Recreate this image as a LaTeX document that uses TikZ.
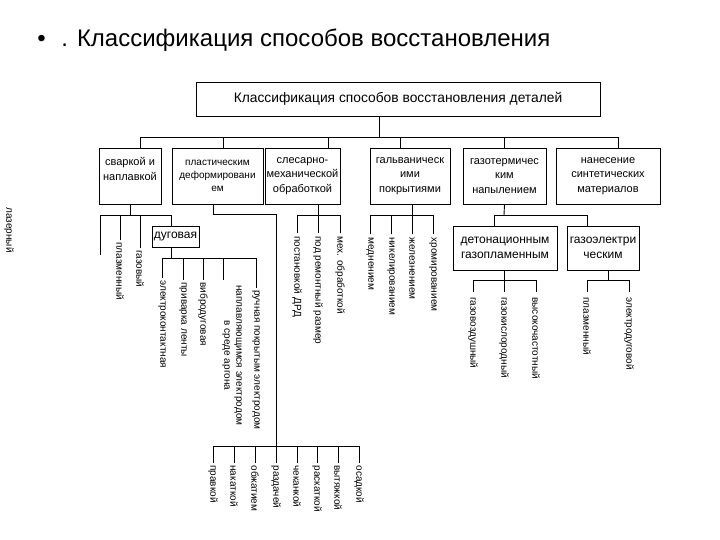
\documentclass[tikz,border=0pt]{standalone}
\usepackage{fontspec}
\setmainfont{Liberation Sans}
\usetikzlibrary{calc}

\begin{document}
\begin{tikzpicture}[x=1pt, y=-1pt, line width=0.9pt,
    box/.style={draw, align=center, inner sep=1pt, font=\fontsize{11}{14.5}\selectfont},
    smallbox/.style={box, font=\fontsize{10}{13}\selectfont},
    lbl/.style={rotate=-90, anchor=west, inner sep=0pt, align=center, font=\fontsize{10}{12}\selectfont}]
    \useasboundingbox (0,0) rectangle (720,540);
    % title
    \node[anchor=base west, inner sep=0pt, font=\fontsize{24}{28}\selectfont] (bullet) at (37,47) {•};
    \node[anchor=base west, inner sep=0pt, font=\fontsize{24}{28}\selectfont] (title) at (61,47) {. Классификация способов восстановления};
    % root
    \node[box, minimum width=404, minimum height=34, font=\fontsize{13.8}{15}\selectfont] (root) at (398,99) {Классификация способов восстановления деталей};
    \coordinate (rootJ) at (379,137);
    \path[draw] ($(root.south)+(-19,0)$) -- (rootJ);
    % first level
    \node[box, minimum width=62, minimum height=56] (svarka) at (130,176) {сваркой и\\наплавкой\\~};
    \node[smallbox, minimum width=91, minimum height=56] (plast) at (217.5,176) {пластическим\\деформировани\\ем};
    \node[box, minimum width=75, minimum height=56] (slesar) at (302.5,176) {слесарно-\\механической\\обработкой};
    \node[box, minimum width=80, minimum height=56] (galv) at (410,176) {гальваническ\\ими\\покрытиями};
    \node[box, minimum width=83, minimum height=56] (gazoterm) at (504.5,176) {газотермичес\\ким\\напылением};
    \node[box, minimum width=104, minimum height=56] (nanes) at (608,176) {нанесение\\синтетических\\материалов};
    \path[draw] ($(svarka.north)+(10,0)$) |- (rootJ);
    \path[draw] ($(plast.north)+(5.5,0)$) |- (rootJ);
    \path[draw] ($(slesar.north)+(25.5,0)$) |- (rootJ);
    \path[draw] ($(galv.north)+(-10,0)$) |- (rootJ);
    \path[draw] (gazoterm.north) |- (rootJ);
    \path[draw] ($(nanes.north)+(10,0)$) |- (rootJ);

    % welding and surfacing
    \node[lbl] (lazer) at (9,207) {лазерный};
    \node[lbl] (plazma) at (120,242) {плазменный};
    \node[lbl] (gaz) at (140,250) {газовый};
    \node[box, minimum width=47, minimum height=21, font=\fontsize{12}{14}\selectfont] (dug) at (175.5,236.5) {дуговая};
    \coordinate (svJ) at (130,215);
    \coordinate (svFree) at (100,255);
    \path[draw] (svarka.south) -- (svJ);
    \path[draw] (svFree) |- (svJ);
    \path[draw] ($(plazma.west)+(0,-2)$) |- (svJ);
    \path[draw] ($(gaz.west)+(0,-2)$) |- (svJ);
    \path[draw] ($(dug.north)+(-4.5,0)$) |- (svJ);
    % arc
    \node[lbl] (ekontakt) at (162,280) {электроконтактная};
    \node[lbl] (privarka) at (183,282) {приварка ленты};
    \node[lbl] (vibro) at (203,282) {вибродуговая};
    \node[lbl] (argon) at (232,285) {наплавляющимся электродом\\в среде аргона};
    \node[lbl] (ruchn) at (256,290) {ручная покрытым электродом};
    \coordinate (dugJ) at (171,258);
    \path[draw] ($(dug.south)+(-4.5,0)$) -- (dugJ);
    \path[draw] ($(ekontakt.west)+(0,-2)$) |- (dugJ);
    \path[draw] ($(privarka.west)+(0,-2)$) |- (dugJ);
    \path[draw] ($(vibro.west)+(0,-2)$) |- (dugJ);
    \path[draw] ($(argon.west)+(-9,-5)$) |- (dugJ);
    \path[draw] ($(ruchn.west)+(0,-2)$) |- (dugJ);

    % plastic deformation
    \node[lbl] (pravka) at (213,465) {правкой};
    \node[lbl] (nakatka) at (234,465) {накаткой};
    \node[lbl] (obzhatie) at (255,465) {обжатием};
    \node[lbl] (razdacha) at (276,465) {раздачей};
    \node[lbl] (chekanka) at (297,465) {чеканкой};
    \node[lbl] (raskatka) at (317,465) {раскаткой};
    \node[lbl] (vytyazhka) at (338,465) {вытяжкой};
    \node[lbl] (osadka) at (359,465) {осадкой};
    \coordinate (plJ) at (276,446);
    \path[draw] ($(plast.south)+(-4.5,0)$) -- ++(0,10) -| (plJ);
    \path[draw] ($(pravka.west)+(0,-2)$) |- (plJ);
    \path[draw] ($(nakatka.west)+(0,-2)$) |- (plJ);
    \path[draw] ($(obzhatie.west)+(0,-2)$) |- (plJ);
    \path[draw] ($(razdacha.west)+(0,-2)$) |- (plJ);
    \path[draw] ($(chekanka.west)+(0,-2)$) |- (plJ);
    \path[draw] ($(raskatka.west)+(0,-2)$) |- (plJ);
    \path[draw] ($(vytyazhka.west)+(0,-2)$) |- (plJ);
    \path[draw] ($(osadka.west)+(0,-2)$) |- (plJ);

    % machining
    \node[lbl] (postDRD) at (297,236) {постановкой ДРД};
    \node[lbl] (remraz) at (318,236) {под ремонтный размер};
    \node[lbl] (mehobr) at (340,236) {мех. обработкой};
    \coordinate (slJ) at (318,215);
    \path[draw] ($(slesar.south)+(15.5,0)$) -- (slJ);
    \path[draw] ($(postDRD.west)+(0,-3)$) |- (slJ);
    \path[draw] ($(remraz.west)+(0,-3)$) |- (slJ);
    \path[draw] ($(mehobr.west)+(0,-3)$) |- (slJ);

    % galvanic coatings
    \node[lbl] (medn) at (370,237) {меднением};
    \node[lbl] (nikel) at (391,237) {никелированием};
    \node[lbl] (zhelez) at (412,237) {железнением};
    \node[lbl] (hrom) at (433,237) {хромированием};
    \coordinate (gvJ) at (412,215);
    \path[draw] ($(galv.south)+(2,0)$) -- (gvJ);
    \path[draw] ($(medn.west)+(0,-3)$) |- (gvJ);
    \path[draw] ($(nikel.west)+(0,-3)$) |- (gvJ);
    \path[draw] ($(zhelez.west)+(0,-3)$) |- (gvJ);
    \path[draw] ($(hrom.west)+(0,-3)$) |- (gvJ);

    % thermal spraying
    \node[box, minimum width=104, minimum height=44, font=\fontsize{12}{15}\selectfont] (det) at (505,248) {детонационным\\газопламенным};
    \node[box, minimum width=72, minimum height=44, font=\fontsize{12}{15}\selectfont] (gazel) at (603,248) {газоэлектри\\ческим};
    \coordinate (gtJ) at (504,215);
    \path[draw] (gazoterm.south) -- (gtJ);
    \path[draw] ($(det.north)+(-11,0)$) |- (gtJ);
    \path[draw] ($(gazel.north)+(-16,0)$) |- (gtJ);
    \node[lbl] (gazvozd) at (473,297) {газовоздушный};
    \node[lbl] (gazkisl) at (504,297) {газокислородный};
    \node[lbl] (vysok) at (536,297) {высокочастотный};
    \coordinate (detJ) at (504,280);
    \path[draw] ($(det.south)+(-1,0)$) -- (detJ);
    \path[draw] ($(gazvozd.west)+(0,-5)$) |- (detJ);
    \path[draw] ($(gazkisl.west)+(0,-5)$) |- (detJ);
    \path[draw] ($(vysok.west)+(0,-5)$) |- (detJ);
    \node[lbl] (plazmaB) at (587,297) {плазменный};
    \node[lbl] (edug) at (629,297) {электродуговой};
    \coordinate (geJ) at (608,280);
    \path[draw] ($(gazel.south)+(5,0)$) -- (geJ);
    \path[draw] ($(plazmaB.west)+(0,-5)$) |- (geJ);
    \path[draw] ($(edug.west)+(0,-5)$) |- (geJ);
\end{tikzpicture}
\end{document}
